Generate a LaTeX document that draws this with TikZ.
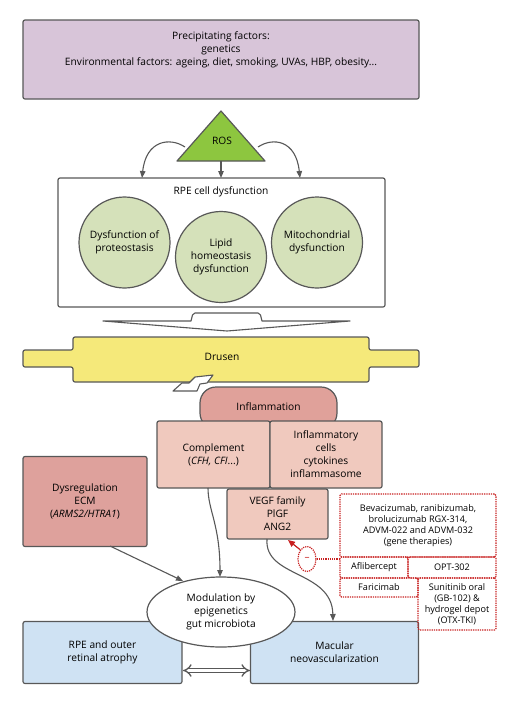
\documentclass[tikz,border=0pt]{standalone}
\usepackage{fontspec}
\setmainfont{Open Sans}
\usetikzlibrary{arrows.meta,shapes.geometric,calc}
\definecolor{edge}{RGB}{88,88,88}
\definecolor{purp}{RGB}{216,197,217}
\definecolor{rosgreen}{RGB}{141,198,63}
\definecolor{circg}{RGB}{213,225,186}
\definecolor{drus}{RGB}{245,233,122}
\definecolor{infl}{RGB}{224,161,154}
\definecolor{compl}{RGB}{240,201,190}
\definecolor{dysr}{RGB}{222,161,156}
\definecolor{blu}{RGB}{207,226,243}
\definecolor{redc}{RGB}{200,32,32}
\begin{document}
\begin{tikzpicture}[x=1pt,y=-1pt,
  bx/.style={draw=edge, line width=1.2pt, rounded corners=2pt, inner sep=0pt},
  txt/.style={font=\fontsize{10.2}{13}\selectfont, align=center, inner sep=0pt},
  circ/.style={circle, draw=edge, line width=1.2pt, fill=circg, inner sep=0pt, font=\fontsize{10.2}{13}\selectfont, align=center},
  arr/.style={draw=edge, line width=1.1pt, -{Triangle[length=7pt,width=5.5pt]}},
  rbox/.style={draw=redc, line width=1.3pt, densely dotted, rounded corners=1.5pt, inner sep=0pt, font=\fontsize{9.1}{11}\selectfont, align=center}]
\useasboundingbox (0,0) rectangle (520,705);
% top box
\node[bx, fill=purp, minimum width=396pt, minimum height=79pt] (top) at (221,59.5) {};
\node[txt] (toptxt) at (221,50) {Precipitating factors:\\genetics\\Environmental factors: ageing, diet, smoking, UVAs, HBP, obesity...};
% ROS triangle
\coordinate (apex) at (221,111);
\coordinate (bl) at (177,161);
\coordinate (br) at (265,161);
\draw[draw=edge, line width=1.2pt, fill=rosgreen, line join=round] (apex) -- (br) -- (bl) -- cycle;
\node[txt] (ros) at (222,141) {ROS};
% RPE box
\node[bx, fill=white, minimum width=327pt, minimum height=129pt] (rpe) at (221.5,242.5) {};
\node[txt] (rpetitle) at (221,192) {RPE cell dysfunction};
\coordinate (rosbot) at (221,161);
\coordinate (rosl) at (185,147);
\coordinate (rosr) at (258,147);
\coordinate (rpel) at (142,178);
\coordinate (rper) at (300,178);
\coordinate (rpem) at (221,178);
\draw[arr] (rosbot) -- (rpem);
\draw[arr] (rosl) .. controls (170,137) and (146,140) .. (rpel);
\draw[arr] (rosr) .. controls (273,137) and (296,140) .. (rper);
% circles
\node[circ, minimum size=91pt] (c1) at (124.5,242.5) {Dysfunction of\\proteostasis};
\node[circ, minimum size=91pt] (c2) at (221,257) {Lipid\\homeostasis\\dysfunction};
\node[circ, minimum size=91pt] (c3) at (317,242.5) {Mitochondrial\\dysfunction};
% block arrow
\draw[draw=edge, line width=1.1pt, fill=white, line join=round]
  (103,321) -- (191,321) [rounded corners=2pt] -- (193,313) -- (260,313) [sharp corners] -- (262,321) -- (350,321) -- (227,331) -- cycle;
% Drusen
\draw[draw=edge, line width=1.2pt, fill=drus, rounded corners=2pt]
  (73,337) -- (369,337) -- (369,350) -- (419,350) -- (419,367) -- (369,367) -- (369,382) -- (73,382) -- (73,367) -- (23,367) -- (23,350) -- (73,350) -- cycle;
\node[txt] (drusen) at (222,357) {Drusen};
% small white arrow
\draw[draw=edge, line width=1.1pt, fill=white, line join=round]
  (173,391) -- (182,383) -- (189,383) -- (195,377) -- (213,375) -- (207,383) -- (200,384) -- (197,391) -- cycle;
% Inflammation
\node[draw=edge, line width=1.2pt, fill=infl, rounded corners=16pt, minimum width=137pt, minimum height=42pt, txt] (infl) at (268.5,408) {};
\node[txt] (infltxt) at (268.5,407) {Inflammation};
\node[bx, fill=compl, minimum width=113pt, minimum height=67pt, txt] (compl) at (213.5,454.5) {Complement\\(\textit{CFH, CFI}...)};
\node[bx, fill=compl, minimum width=112pt, minimum height=67pt, txt] (cells) at (326,454.5) {Inflammatory\\cells\\cytokines\\inflammasome};
\node[bx, fill=compl, minimum width=101pt, minimum height=50pt, txt] (vegf) at (277.5,514) {VEGF family\\PlGF\\ANG2};
\node[bx, fill=dysr, minimum width=124pt, minimum height=90pt, txt] (dysr) at (85,501.5) {Dysregulation\\ECM\\(\textit{ARMS2/HTRA1})};
% bottom boxes
\node[bx, fill=blu, minimum width=159pt, minimum height=62pt, txt] (atro) at (102.5,652.5) {RPE and outer\\retinal atrophy};
\node[bx, fill=blu, minimum width=168pt, minimum height=62pt, txt] (mnv) at (334.5,652.5) {Macular\\neovascularization};
\node[ellipse, draw=edge, line width=1.2pt, fill=white, minimum width=148pt, minimum height=70pt, txt] (mod) at (221,612) {Modulation by\\epigenetics\\gut microbiota};
\coordinate (dbl) at (183,670.5);
\coordinate (dbr) at (250,670.5);
\draw[draw=edge, line width=1.3pt, double=white, double distance=3pt, {Implies[length=6pt,width=12pt]}-{Implies[length=6pt,width=12pt]}] (dbl) -- (dbr);
% arrows
\coordinate (dysrb) at (110,546);
\coordinate (modl) at (183,581);
\draw[arr] (dysrb) -- (modl);
\coordinate (complb) at (208,488);
\coordinate (modt) at (220,577);
\draw[arr] (complb) .. controls (208,510) and (220,525) .. (modt);
\coordinate (vegfb) at (267,539);
\coordinate (mnvt) at (333,621);
\draw[arr] (vegfb) .. controls (264,578) and (332,570) .. (mnvt);
% red boxes
\node[rbox, minimum width=156pt, minimum height=63pt] (drugs) at (418,525.5) {Bevacizumab, ranibizumab,\\brolucizumab RGX-314,\\ADVM-022 and ADVM-032\\(gene therapies)};
\node[rbox, minimum width=68pt, minimum height=21pt] (afli) at (374,567.5) {Aflibercept};
\node[rbox, minimum width=88pt, minimum height=21pt] (opt) at (452,567.5) {OPT-302};
\node[rbox, minimum width=78pt, minimum height=19pt] (fari) at (379,587.5) {Faricimab};
\node[rbox, minimum width=78pt, minimum height=52pt] (suni) at (457,604) {Sunitinib oral\\(GB-102) \&\\hydrogel depot\\(OTX-TKI)};
\node[ellipse, draw=redc, line width=1.2pt, densely dotted, minimum width=18pt, minimum height=25pt, inner sep=0pt, text=redc, font=\fontsize{10}{10}\selectfont] (minus) at (307,559) {–};
\coordinate (drugsl) at (340,559);
\coordinate (vegftip) at (288,540);
\draw[draw=redc, line width=1.2pt, densely dotted] (minus.east) -- (drugsl);
\draw[draw=redc, line width=1.2pt, -{Triangle[length=7pt,width=6pt]}] (minus.north west) -- (vegftip);
\end{tikzpicture}
\end{document}
